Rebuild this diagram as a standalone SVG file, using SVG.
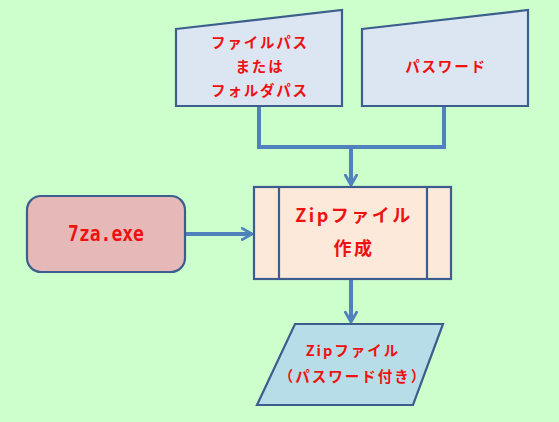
<svg xmlns="http://www.w3.org/2000/svg" width="559" height="422" viewBox="0 0 559 422">
<defs>
<marker id="arr" viewBox="0 0 10 10" refX="8" refY="5" markerWidth="3.5" markerHeight="3.5" orient="auto" markerUnits="strokeWidth">
<path d="M1,1 L8,5 L1,9" fill="none" stroke="#4f81bd" stroke-width="2" stroke-linecap="round" stroke-linejoin="round"/>
</marker>
<style>
.sh{stroke:#3b5e8c;stroke-width:2.2}
.t{font-family:"Noto Sans CJK JP","Noto Sans",sans-serif;font-weight:bold;fill:#ee1111;text-anchor:middle}
.c{fill:none;stroke:#4f81bd;stroke-width:4}
</style>
</defs>
<rect width="559" height="422" fill="#ccffcc"/>
<g id="connectors">
<polyline class="c" points="259,106 259,147 444,147 444,106"/>
<line class="c" x1="351" y1="147" x2="351" y2="185" marker-end="url(#arr)"/>
<line class="c" x1="185" y1="234" x2="252" y2="234" marker-end="url(#arr)"/>
<line class="c" x1="351" y1="279" x2="351" y2="322" marker-end="url(#arr)"/>
</g>
<g id="input1">
<polygon class="sh" points="176,29 342,10 342,106 176,106" fill="#dce6f2"/>
<text class="t" font-size="14.5" letter-spacing="1.8" x="260" y="48">ファイルパス</text>
<text class="t" font-size="14.5" letter-spacing="1.8" x="260" y="72">または</text>
<text class="t" font-size="14.5" letter-spacing="1.8" x="260" y="96">フォルダパス</text>
</g>
<g id="input2">
<polygon class="sh" points="362,29 528,10 528,106 362,106" fill="#dce6f2"/>
<text class="t" font-size="14.5" letter-spacing="1.8" x="446" y="72">パスワード</text>
</g>
<g id="exe">
<rect class="sh" x="27" y="196" width="158" height="76" rx="14" fill="#e6b9b8"/>
<text font-family="'DejaVu Sans Mono',monospace" font-weight="bold" font-size="18" fill="#ee1111" text-anchor="middle" transform="translate(106,241) scale(1,1.22)" x="0" y="0">7za.exe</text>
</g>
<g id="process">
<rect class="sh" x="254" y="187" width="197" height="92" fill="#fde9d9"/>
<line class="sh" x1="279" y1="187" x2="279" y2="279"/>
<line class="sh" x1="427" y1="187" x2="427" y2="279"/>
<text class="t" font-size="18" letter-spacing="2.5" x="354" y="222">Zipファイル</text>
<text class="t" font-size="18" letter-spacing="2.5" x="354" y="255">作成</text>
</g>
<g id="output">
<polygon class="sh" points="295,324 443,324 413,405 257,405" fill="#b7dde8"/>
<text class="t" font-size="14.5" letter-spacing="2" x="353" y="356">Zipファイル</text>
<text class="t" font-size="14.5" letter-spacing="2" x="353" y="382">（パスワード付き）</text>
</g>
</svg>
